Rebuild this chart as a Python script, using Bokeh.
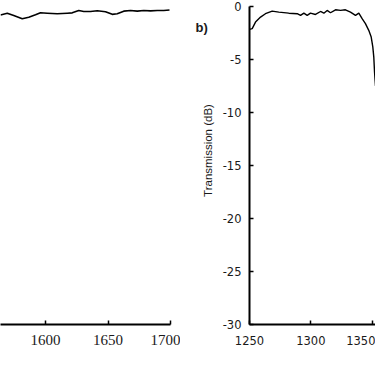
import math
from bokeh.plotting import figure
from bokeh.layouts import row
from bokeh.models import Range1d, FixedTicker, Label
from bokeh.embed import file_html
from bokeh.resources import INLINE

# ---- data: panel a (only right part visible) ----
a_wavelength = [1564.0, 1569.4, 1574.6, 1581.4, 1586.6, 1592.0, 1596.0, 1601.4, 1609.4,
                1617.4, 1621.4, 1626.6, 1630.6, 1636.0, 1641.4, 1648.0, 1653.4, 1657.4,
                1662.6, 1668.0, 1673.4, 1678.6, 1684.0, 1689.4, 1694.6, 1699.2]
a_transmission = [-0.80, -0.63, -0.85, -1.16, -1.01, -0.78, -0.59, -0.63, -0.69,
                  -0.63, -0.60, -0.38, -0.47, -0.47, -0.40, -0.49, -0.74, -0.69,
                  -0.44, -0.38, -0.44, -0.38, -0.41, -0.38, -0.38, -0.33]
a_xticks = [1600, 1650, 1700]

# ---- data: panel b ----
b_wavelength = [1250.0, 1252.2, 1254.9, 1259.0, 1263.0, 1268.5, 1273.9, 1282.0, 1288.9,
                1291.6, 1294.3, 1297.0, 1299.7, 1303.8, 1307.9, 1310.6, 1313.3, 1316.0,
                1320.1, 1324.2, 1328.2, 1332.3, 1336.4, 1339.1, 1341.8, 1344.5, 1347.2,
                1349.2, 1350.5, 1351.3, 1351.9, 1352.4, 1352.7]
b_transmission = [-2.16, -2.09, -1.47, -1.00, -0.68, -0.44, -0.53, -0.63, -0.68,
                  -0.84, -0.63, -0.84, -0.63, -0.75, -0.47, -0.63, -0.37, -0.59,
                  -0.31, -0.37, -0.31, -0.53, -0.84, -0.63, -1.15, -1.62, -2.25,
                  -2.88, -3.81, -4.75, -6.16, -7.0, -7.5]
b_xticks = [1250, 1300, 1350]
b_yticks = [0, -5, -10, -15, -20, -25, -30]
b_ylabel = "Transmission (dB)"
b_tag = "b)"

TXT = "#1a1a1a"

# ---- panel a ----
pa = figure(width=180, height=375, output_backend="svg", toolbar_location=None,
            y_axis_location=None,
            x_range=Range1d(1564, 1700), y_range=Range1d(-30, 0),
            min_border_left=0, min_border_right=10, min_border_top=6, min_border_bottom=51)
pa.line(a_wavelength, a_transmission, line_color="black", line_width=1.6)
pa.grid.visible = False
pa.outline_line_color = None
pa.xaxis.ticker = FixedTicker(ticks=a_xticks)
pa.xaxis.minor_tick_line_color = None
pa.xaxis.major_tick_in = 4
pa.xaxis.major_tick_out = 0
pa.xaxis.axis_line_width = 2
pa.xaxis.major_tick_line_width = 1.5
pa.xaxis.major_label_standoff = 10
pa.xaxis.major_label_text_font = "Liberation Sans Narrow"
pa.xaxis.major_label_text_font_size = "15px"
pa.xaxis.major_label_text_color = TXT

# ---- strip holding the panel b tag and its y-axis title ----
pm = figure(frame_width=36, frame_height=375, output_backend="svg", toolbar_location=None,
            x_axis_location=None, y_axis_location=None,
            x_range=Range1d(0, 36), y_range=Range1d(0, 375),
            min_border_left=0, min_border_right=0, min_border_top=0, min_border_bottom=0)
pm.grid.visible = False
pm.outline_line_color = None
pm.add_layout(Label(x=27, y=231, text=b_ylabel, angle=math.pi / 2,
                    text_align="center", text_baseline="middle",
                    text_font="Liberation Sans", text_font_size="11.5px", text_color=TXT))
pm.add_layout(Label(x=15, y=354.3, text=b_tag, text_align="left",
                    text_baseline="alphabetic", text_font="Liberation Sans",
                    text_font_style="bold", text_font_size="13px", text_color=TXT))

# ---- panel b ----
pb = figure(width=159, height=375, output_backend="svg", toolbar_location=None,
            x_range=Range1d(1250, 1352.7), y_range=Range1d(-30, 0),
            min_border_left=33, min_border_right=0, min_border_top=6, min_border_bottom=49)
pb.line(b_wavelength, b_transmission, line_color="black", line_width=1.4)
pb.grid.visible = False
pb.outline_line_color = None
pb.xaxis.ticker = FixedTicker(ticks=b_xticks)
pb.yaxis.ticker = FixedTicker(ticks=b_yticks)
pb.yaxis.major_label_overrides = {t: str(t) for t in b_yticks}
for ax in (pb.xaxis, pb.yaxis):
    ax.minor_tick_line_color = None
    ax.major_tick_in = 4
    ax.major_tick_out = 0
    ax.axis_line_width = 2
    ax.major_tick_line_width = 1.5
    ax.major_label_text_font = "DejaVu Sans"
    ax.major_label_text_font_size = "11.5px"
    ax.major_label_text_color = TXT
pb.xaxis.major_label_standoff = 11
pb.yaxis.major_label_standoff = 8

layout = row(pa, pm, pb)
open("out.html", "w").write(file_html(layout, INLINE))
